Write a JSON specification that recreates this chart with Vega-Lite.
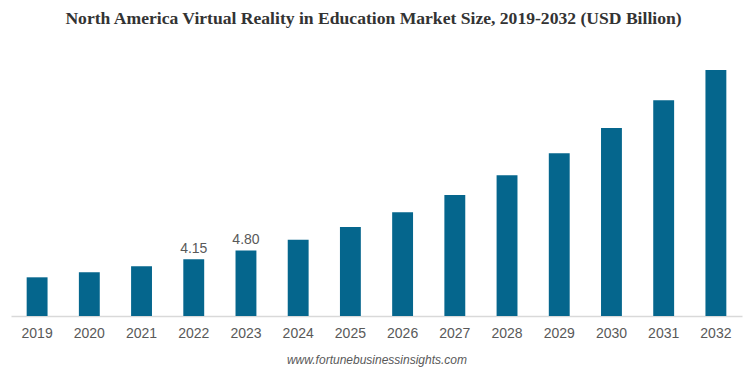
{
  "$schema": "https://vega.github.io/schema/vega-lite/v6.json",
  "width": 731,
  "height": 266,
  "autosize": {"type": "none"},
  "padding": {"left": 11, "top": 50, "right": 3, "bottom": 56},
  "background": "white",
  "title": {
    "text": "North America Virtual Reality in Education Market Size, 2019-2032 (USD Billion)",
    "font": "Liberation Serif",
    "fontSize": 17.6,
    "fontWeight": "bold",
    "color": "#333333",
    "anchor": "middle",
    "dx": -3,
    "offset": 22
  },
  "data": {
    "values": [
      {"year": "2019", "value": 2.83},
      {"year": "2020", "value": 3.20},
      {"year": "2021", "value": 3.64},
      {"year": "2022", "value": 4.15, "label": "4.15"},
      {"year": "2023", "value": 4.80, "label": "4.80"},
      {"year": "2024", "value": 5.58},
      {"year": "2025", "value": 6.51},
      {"year": "2026", "value": 7.59},
      {"year": "2027", "value": 8.85},
      {"year": "2028", "value": 10.29},
      {"year": "2029", "value": 11.90},
      {"year": "2030", "value": 13.75},
      {"year": "2031", "value": 15.78},
      {"year": "2032", "value": 18.0}
    ]
  },
  "config": {"view": {"stroke": null}},
  "encoding": {
    "x": {
      "field": "year",
      "type": "ordinal",
      "scale": {"paddingInner": 0.6, "paddingOuter": 0.3},
      "axis": {
        "title": "www.fortunebusinessinsights.com",
        "titleFont": "Liberation Sans",
        "titleFontSize": 12,
        "titleFontStyle": "italic",
        "titleFontWeight": "normal",
        "titleColor": "#595959",
        "titlePadding": 14,
        "labelAngle": 0,
        "labelFont": "Liberation Sans",
        "labelFontSize": 14,
        "labelColor": "#595959",
        "labelPadding": 10,
        "ticks": false,
        "domainColor": "#d9d9d9",
        "domainWidth": 1.5
      }
    },
    "y": {
      "field": "value",
      "type": "quantitative",
      "scale": {"domain": [0, 19.46], "nice": false},
      "axis": null
    }
  },
  "layer": [
    {"mark": {"type": "bar", "color": "#05668D"}},
    {
      "transform": [{"filter": "isValid(datum.label)"}],
      "mark": {"type": "text", "baseline": "bottom", "dy": -3, "font": "Liberation Sans", "fontSize": 14, "color": "#595959"},
      "encoding": {"text": {"field": "label"}}
    }
  ]
}
